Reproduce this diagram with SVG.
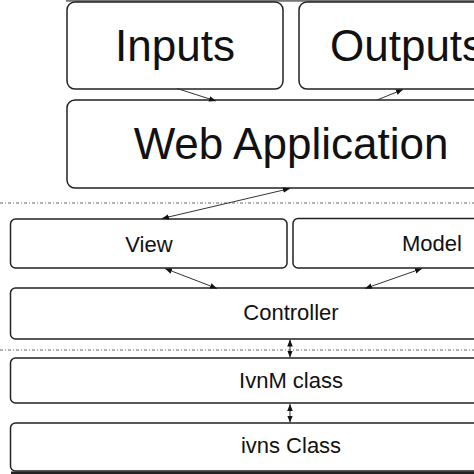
<svg xmlns="http://www.w3.org/2000/svg" width="474" height="474" viewBox="0 0 474 474">
<defs>
<style>
.box{fill:#fff;stroke:#222;stroke-width:1.5}
.big{font-family:"Liberation Sans",Arial,sans-serif;font-size:44px;fill:#111}
.sm{font-family:"Liberation Sans",Arial,sans-serif;font-size:22px;fill:#111}
.conn{stroke:#333;stroke-width:1;fill:none}
.sep{stroke:#666;stroke-width:1;stroke-dasharray:3 2 1 2;fill:none}
</style>
<marker id="ah" viewBox="0 0 10 10" refX="10" refY="5" markerWidth="7" markerHeight="7" orient="auto-start-reverse" markerUnits="userSpaceOnUse">
<path d="M0,1 L10,5 L0,9 z" fill="#111"/>
</marker>
</defs>
<rect width="474" height="474" fill="#fff"/>
<rect x="66" y="0" width="408" height="1.8" fill="#777"/>
<g id="inputs">
<rect class="box" x="67" y="2" width="216" height="87" rx="8"/>
<text class="big" x="175" y="60.5" text-anchor="middle">Inputs</text>
</g>
<g id="outputs">
<rect class="box" x="299" y="2" width="260" height="87" rx="8"/>
<text class="big" x="330" y="60.5">Outputs</text>
</g>
<g id="webapp">
<rect class="box" x="67" y="100" width="447" height="88" rx="8"/>
<text class="big" x="291" y="159" text-anchor="middle">Web Application</text>
</g>
<path class="sep" d="M0,203 H474"/>
<g id="view">
<rect class="box" x="10.5" y="219" width="276.5" height="49" rx="5"/>
<text class="sm" x="149" y="251.5" text-anchor="middle">View</text>
</g>
<g id="model">
<rect class="box" x="293" y="218.5" width="278" height="49.5" rx="5"/>
<text class="sm" x="432" y="251" text-anchor="middle">Model</text>
</g>
<g id="controller">
<rect class="box" x="10.5" y="288" width="561" height="51" rx="5"/>
<text class="sm" x="291" y="320" text-anchor="middle">Controller</text>
</g>
<path class="sep" d="M0,350 H474"/>
<g id="ivnm">
<rect class="box" x="10.5" y="358" width="561" height="45" rx="5"/>
<text class="sm" x="291" y="388" text-anchor="middle">IvnM class</text>
</g>
<g id="ivns">
<rect class="box" x="10.5" y="423" width="561" height="48" rx="5"/>
<text class="sm" x="291" y="453" text-anchor="middle">ivns Class</text>
</g>
<rect x="11" y="471.5" width="463" height="2.5" fill="#222"/>
<g id="connectors">
<line class="conn" x1="177" y1="88.5" x2="216" y2="101" marker-end="url(#ah)"/>
<line class="conn" x1="377" y1="100" x2="403" y2="89.5" marker-end="url(#ah)"/>
<line class="conn" x1="290" y1="188.5" x2="162" y2="218.5" marker-start="url(#ah)" marker-end="url(#ah)"/>
<line class="conn" x1="165" y1="268.5" x2="217" y2="288.5" marker-start="url(#ah)" marker-end="url(#ah)"/>
<line class="conn" x1="422" y1="268.5" x2="365" y2="288.5" marker-start="url(#ah)" marker-end="url(#ah)"/>
<line class="conn" x1="290" y1="339.5" x2="290" y2="357.5" marker-start="url(#ah)" marker-end="url(#ah)"/>
<line class="conn" x1="290" y1="404" x2="290" y2="422.5" marker-start="url(#ah)" marker-end="url(#ah)"/>
</g>
</svg>
